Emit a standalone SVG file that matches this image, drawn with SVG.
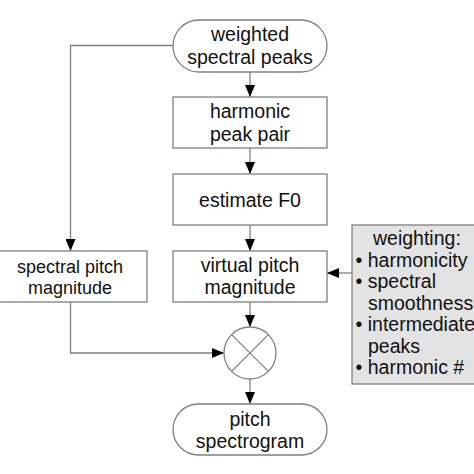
<svg xmlns="http://www.w3.org/2000/svg" width="474" height="474" viewBox="0 0 474 474">
<defs>
<style>
.box{fill:#fff;stroke:#808080;stroke-width:1.3}
.ln{fill:none;stroke:#808080;stroke-width:1.3}
.t{font-family:"Liberation Sans",Arial,sans-serif;font-size:19.5px;fill:#111;text-anchor:middle}
.ts{font-family:"Liberation Sans",Arial,sans-serif;font-size:18px;fill:#111;text-anchor:middle}
.tw{font-family:"Liberation Sans",Arial,sans-serif;font-size:19.5px;fill:#111}
</style>
<marker id="ah" viewBox="0 0 12 10" refX="12" refY="5" markerWidth="12" markerHeight="10" markerUnits="userSpaceOnUse" orient="auto">
<path d="M0,0 L12,5 L0,10 Z" fill="#000"/>
</marker>
</defs>
<rect width="474" height="474" fill="#fff"/>
<g id="connectors">
<line class="ln" x1="250" y1="72" x2="250" y2="97" marker-end="url(#ah)"/>
<line class="ln" x1="250" y1="148" x2="250" y2="174" marker-end="url(#ah)"/>
<line class="ln" x1="250" y1="225" x2="250" y2="251" marker-end="url(#ah)"/>
<line class="ln" x1="250" y1="302" x2="250" y2="327" marker-end="url(#ah)"/>
<line class="ln" x1="250" y1="379" x2="250" y2="404" marker-end="url(#ah)"/>
<polyline class="ln" points="173,45.5 70.5,45.5 70.5,251" marker-end="url(#ah)"/>
<polyline class="ln" points="70.5,302 70.5,353 224,353" marker-end="url(#ah)"/>
<line class="ln" x1="352" y1="273" x2="327" y2="273" marker-end="url(#ah)"/>
</g>
<g id="n_top">
<rect class="box" x="173" y="20" width="154" height="52" rx="26"/>
<text class="t" x="250" y="41">weighted</text>
<text class="t" x="250" y="64">spectral peaks</text>
</g>
<g id="n_harm">
<rect class="box" x="173" y="97" width="154" height="51"/>
<text class="t" x="250" y="118">harmonic</text>
<text class="t" x="250" y="141">peak pair</text>
</g>
<g id="n_f0">
<rect class="box" x="173" y="174" width="154" height="51"/>
<text class="t" x="250" y="206.5">estimate F0</text>
</g>
<g id="n_virt">
<rect class="box" x="173" y="251" width="154" height="51"/>
<text class="t" x="250" y="271.5">virtual pitch</text>
<text class="t" x="250" y="294">magnitude</text>
</g>
<g id="n_spec">
<rect class="box" x="-1" y="251" width="148" height="51"/>
<text class="ts" x="70" y="273">spectral pitch</text>
<text class="ts" x="70" y="293.5">magnitude</text>
</g>
<g id="n_mult">
<circle class="box" cx="250" cy="353" r="26"/>
<line class="ln" x1="231.6" y1="334.6" x2="268.4" y2="371.4"/>
<line class="ln" x1="268.4" y1="334.6" x2="231.6" y2="371.4"/>
</g>
<g id="n_out">
<rect class="box" x="173" y="404" width="154" height="51" rx="25.5"/>
<text class="t" x="250" y="425.5">pitch</text>
<text class="t" x="250" y="448">spectrogram</text>
</g>
<g id="n_weight">
<rect x="352" y="225" width="130" height="159" fill="#e3e3e3" stroke="#808080" stroke-width="1.3"/>
<text class="tw" x="373" y="245">weighting:</text>
<text class="tw" x="355.5" y="266.5">• harmonicity</text>
<text class="tw" x="355.5" y="288">• spectral</text>
<text class="tw" x="368" y="309.5">smoothness</text>
<text class="tw" x="355.5" y="331">• intermediate</text>
<text class="tw" x="368" y="352.5">peaks</text>
<text class="tw" x="355.5" y="374">• harmonic #</text>
</g>
</svg>
